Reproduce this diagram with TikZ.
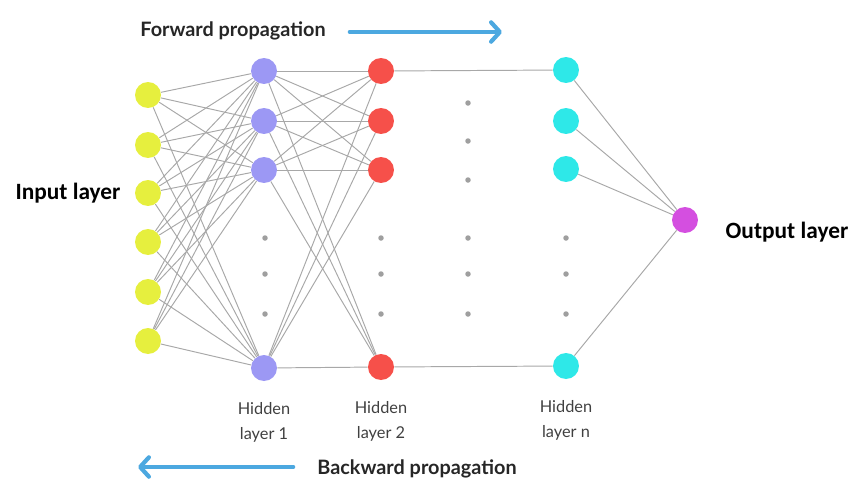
\documentclass[tikz,border=0pt]{standalone}
\usepackage{fontspec}
\setmainfont{Lato}
\newfontfamily\calfont{Carlito}
\usetikzlibrary{arrows.meta}
\usetikzlibrary{positioning}
\definecolor{inyellow}{HTML}{E6EF3E}
\definecolor{hpurple}{HTML}{9C98F4}
\definecolor{hred}{HTML}{F6504A}
\definecolor{hcyan}{HTML}{2EE8E8}
\definecolor{outpink}{HTML}{D44FE0}
\definecolor{arrowblue}{HTML}{4CA8E0}
\definecolor{wiregray}{HTML}{A8A8A8}

\begin{document}
\begin{tikzpicture}[x=0.02cm,y=-0.02cm]
  \tikzset{neuron/.style = {shape=circle,minimum size=0.52cm,inner sep=0pt}}
  \tikzset{dotnode/.style = {shape=circle,minimum size=0.11cm,inner sep=0pt,fill=gray!75}}
  \tikzset{edge/.style = {draw=wiregray,line width=0.55pt}}
  \tikzset{prop/.style = {draw=arrowblue,line width=2.4pt,line cap=round,
      -{Straight Barb[length=5pt,width=11pt,line cap=round,line join=round]}}}
  \tikzset{sidelabel/.style = {font=\calfont\bfseries\fontsize{13.3}{16}\selectfont}}
  \tikzset{proplabel/.style = {font=\bfseries\fontsize{11.3}{13}\selectfont,text=black!85}}
  \tikzset{hlabel/.style = {font=\fontsize{9.3}{14.2}\selectfont,text=black!75,align=center}}

  \useasboundingbox (0,0) rectangle (867,494);

  % layers
  \foreach \i/\y in {1/95,2/145,3/193,4/242,5/292,6/341}
    \node[neuron,fill=inyellow] (I\i) at (148,\y) {};
  \foreach \i/\y in {1/71,2/121,3/170,4/368}
    \node[neuron,fill=hpurple] (A\i) at (264,\y) {};
  \foreach \i/\y in {1/71,2/121,3/170,4/367}
    \node[neuron,fill=hred] (B\i) at (381,\y) {};
  \foreach \i/\y in {1/70,2/121,3/169,4/366}
    \node[neuron,fill=hcyan] (N\i) at (566,\y) {};
  \node[neuron,fill=outpink] (O) at (685,220) {};

  % dots
  \foreach \c/\x in {a/265,b/381,m/468,n/566}
    \foreach \j/\y in {1/238,2/274,3/314}
      \node[dotnode] (dot\c\j) at (\x,\y) {};
  \foreach \j/\y in {4/103,5/141,6/180}
    \node[dotnode] (dotm\j) at (468,\y) {};

  % connections
  \foreach \from in {1,...,6}
    \foreach \to in {1,...,4}
      \path[edge] (I\from) edge (A\to);
  \foreach \from in {1,...,4}
    \foreach \to in {1,...,4}
      \path[edge] (A\from) edge (B\to);
  \foreach \from/\to in {B1/N1,B4/N4}
    \path[edge] (\from) edge (\to);
  \foreach \from in {1,...,4}
    \path[edge] (N\from) edge (O);

  % labels
  \node[sidelabel] (inlab) at (68,193) {Input layer};
  \node[sidelabel] (outlab) at (787,232) {Output layer};
  \node[hlabel,below=0.3cm of A4] (hl1) {Hidden\\layer 1};
  \node[hlabel,below=0.3cm of B4] (hl2) {Hidden\\layer 2};
  \node[hlabel,below=0.3cm of N4] (hln) {Hidden\\layer n};

  % propagation arrows
  \node[proplabel] (fwd) at (233,31) {Forward propagation};
  \coordinate (fwdend) at (502,32);
  \draw[prop] ([xshift=0.36cm]fwd.east |- fwdend) -- (fwdend);
  \node[proplabel] (bwd) at (417,469) {Backward propagation};
  \coordinate (bwdend) at (138,467);
  \draw[prop] ([xshift=-0.36cm]bwd.west |- bwdend) -- (bwdend);
\end{tikzpicture}
\end{document}
